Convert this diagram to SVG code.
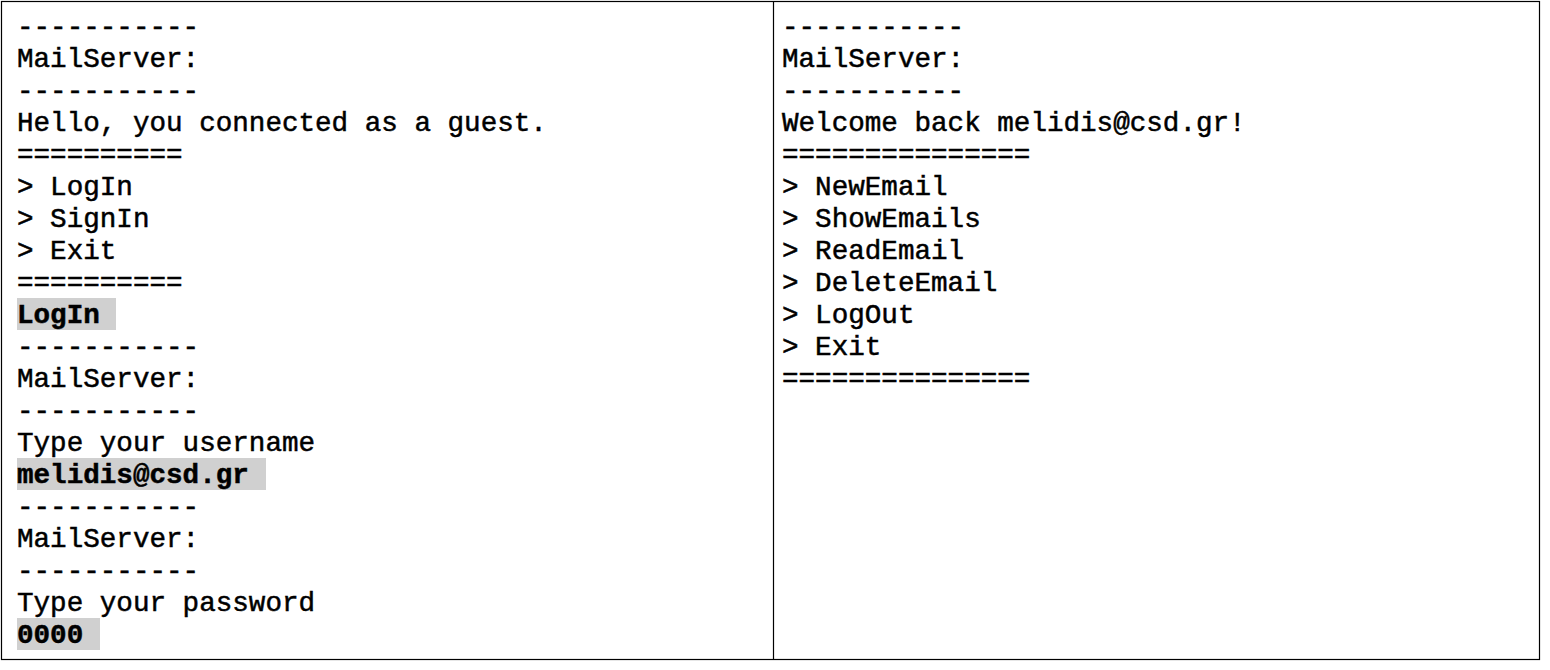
<svg xmlns="http://www.w3.org/2000/svg" width="1550" height="670" viewBox="0 0 1550 670">
<style>
text{font-family:"Liberation Mono","Courier New",monospace;font-size:27.6px;fill:#000;stroke:#000;stroke-width:0.5px;white-space:pre}
.b{font-weight:bold}
.hl{fill:#d0d0d0}
</style>
<rect width="1550" height="670" fill="#fff"/>
<g id="table" fill="none" stroke="#000" stroke-width="1.2">
<rect x="1.5" y="1.5" width="1538" height="658"/>
<line x1="773.5" y1="1.5" x2="773.5" y2="659.5"/>
</g>
<g id="left">
<rect class="hl" x="17" y="298" width="99" height="32"/>
<rect class="hl" x="17" y="458" width="249" height="32"/>
<rect class="hl" x="17" y="618" width="83" height="32"/>
<text x="17" y="35">-----------</text>
<text x="17" y="67">MailServer:</text>
<text x="17" y="99">-----------</text>
<text x="17" y="131">Hello, you connected as a guest.</text>
<text x="17" y="163">==========</text>
<text x="17" y="195">&gt; LogIn</text>
<text x="17" y="227">&gt; SignIn</text>
<text x="17" y="259">&gt; Exit</text>
<text x="17" y="291">==========</text>
<text class="b" x="17" y="323">LogIn</text>
<text x="17" y="355">-----------</text>
<text x="17" y="387">MailServer:</text>
<text x="17" y="419">-----------</text>
<text x="17" y="451">Type your username</text>
<text class="b" x="17" y="483">melidis@csd.gr</text>
<text x="17" y="515">-----------</text>
<text x="17" y="547">MailServer:</text>
<text x="17" y="579">-----------</text>
<text x="17" y="611">Type your password</text>
<text class="b" x="17" y="643">0000</text>
</g>
<g id="right">
<text x="782" y="35">-----------</text>
<text x="782" y="67">MailServer:</text>
<text x="782" y="99">-----------</text>
<text x="782" y="131">Welcome back melidis@csd.gr!</text>
<text x="782" y="163">===============</text>
<text x="782" y="195">&gt; NewEmail</text>
<text x="782" y="227">&gt; ShowEmails</text>
<text x="782" y="259">&gt; ReadEmail</text>
<text x="782" y="291">&gt; DeleteEmail</text>
<text x="782" y="323">&gt; LogOut</text>
<text x="782" y="355">&gt; Exit</text>
<text x="782" y="387">===============</text>
</g>
<g id="connectors"/>
</svg>
